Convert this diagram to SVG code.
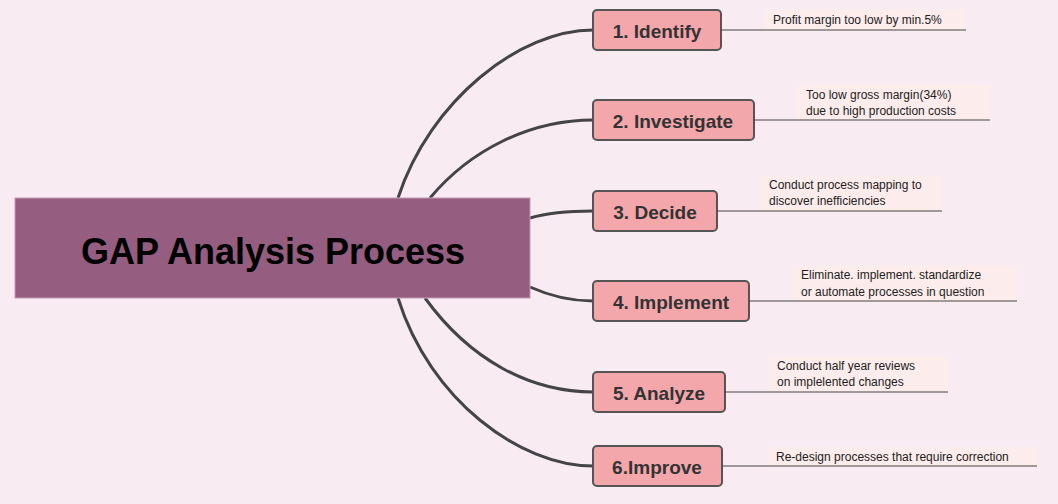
<svg xmlns="http://www.w3.org/2000/svg" width="1058" height="504" viewBox="0 0 1058 504">
<style>
.c{fill:none;stroke:#444;stroke-width:3}
.n{fill:#f4a7ab;stroke:#555;stroke-width:2}
.nt{font-family:"Liberation Sans",Arial,sans-serif;font-weight:bold;font-size:19px;fill:#333;text-anchor:middle}
.lb{fill:#fdecec}
.ln{stroke:#444;stroke-width:1}
.t{font-family:"Liberation Sans",Arial,sans-serif;font-size:12px;fill:#222}
</style>
<rect width="1058" height="504" fill="#f8ecf2"/>
<g id="connectors">
<path class="c" d="M398,198 C430,100 520,30 593,30"/>
<path class="c" d="M430,198 C470,150 530,120 593,120"/>
<path class="c" d="M530,218 C550,212 570,211 593,211"/>
<path class="c" d="M530,287 C550,296 570,301 593,301"/>
<path class="c" d="M425,298 C470,360 530,392 593,392"/>
<path class="c" d="M398,298 C430,400 520,466 593,466"/>
</g>
<g id="main">
<rect x="15" y="198" width="515" height="100" fill="#955d80" stroke="#c49ab5" stroke-width="1"/>
<text x="273" y="264" font-family="'Liberation Sans',Arial,sans-serif" font-weight="bold" font-size="36" fill="#000" text-anchor="middle">GAP Analysis Process</text>
</g>
<g id="n1"><rect class="n" x="593" y="10" width="128" height="40" rx="4"/><text class="nt" x="657" y="38">1. Identify</text>
<rect class="lb" x="765" y="10" width="200" height="20"/><line class="ln" x1="721" y1="30" x2="966" y2="30"/><text class="t" x="773" y="24">Profit margin too low by min.5%</text></g>
<g id="n2"><rect class="n" x="593" y="100" width="161" height="40" rx="4"/><text class="nt" x="673" y="128">2. Investigate</text>
<rect class="lb" x="797" y="85" width="193" height="35"/><line class="ln" x1="754" y1="120" x2="990" y2="120"/><text class="t" x="806" y="99">Too low gross margin(34%)</text><text class="t" x="806" y="115">due to high production costs</text></g>
<g id="n3"><rect class="n" x="593" y="191" width="124" height="40" rx="4"/><text class="nt" x="655" y="219">3. Decide</text>
<rect class="lb" x="761" y="176" width="181" height="35"/><line class="ln" x1="717" y1="211" x2="942" y2="211"/><text class="t" x="769" y="189">Conduct process mapping to</text><text class="t" x="769" y="205">discover inefficiencies</text></g>
<g id="n4"><rect class="n" x="593" y="281" width="156" height="40" rx="4"/><text class="nt" x="671" y="309">4. Implement</text>
<rect class="lb" x="793" y="266" width="224" height="35"/><line class="ln" x1="749" y1="301" x2="1017" y2="301"/><text class="t" x="801" y="279">Eliminate. implement. standardize</text><text class="t" x="801" y="296">or automate processes in question</text></g>
<g id="n5"><rect class="n" x="593" y="372" width="132" height="40" rx="4"/><text class="nt" x="659" y="400">5. Analyze</text>
<rect class="lb" x="769" y="357" width="179" height="35"/><line class="ln" x1="725" y1="392" x2="948" y2="392"/><text class="t" x="777" y="370">Conduct half year reviews</text><text class="t" x="777" y="386">on implelented changes</text></g>
<g id="n6"><rect class="n" x="593" y="446" width="129" height="40" rx="4"/><text class="nt" x="657" y="474">6.Improve</text>
<rect class="lb" x="768" y="447" width="269" height="19"/><line class="ln" x1="722" y1="466" x2="1037" y2="466"/><text class="t" x="776" y="461">Re-design processes that require correction</text></g>
</svg>
